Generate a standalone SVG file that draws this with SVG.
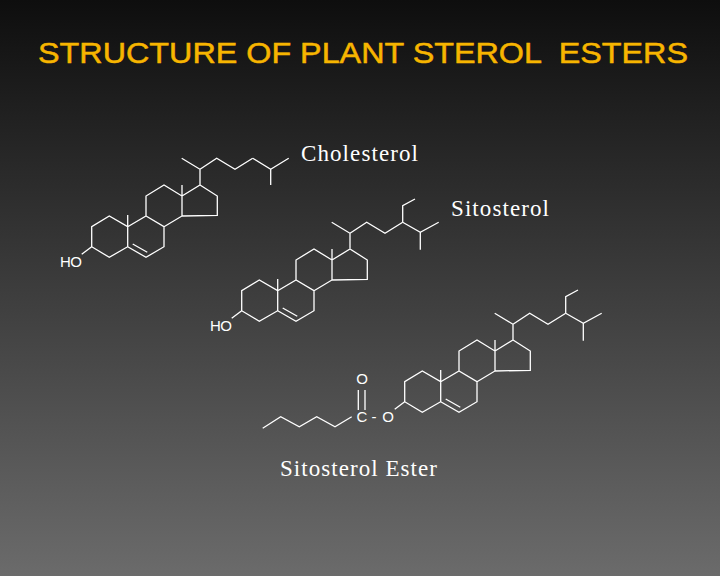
<svg xmlns="http://www.w3.org/2000/svg" xmlns:xlink="http://www.w3.org/1999/xlink" width="720" height="576" viewBox="0 0 720 576">
<defs>
<linearGradient id="bg" x1="0" y1="0" x2="0" y2="1"><stop offset="0" stop-color="#0e0e0e"/><stop offset="1" stop-color="#6b6b6b"/></linearGradient>
<g id="core" fill="none" stroke="#fff" stroke-width="1.3">
<path d="M91.7,246.7 L91.7,226.7 L109.3,216 L127.7,226.7 L127.7,246.7 L109.3,257.3 Z M127.7,226.7 L146,216 L164,226.7 L164,246.7 L146,257.3 L127.7,246.7 M132.7,244 L147.3,252.3 M146,216 L146,196 L164,185 L182,196 L182,216 L164,226.7 M182,196 L200,185 L217.3,196 L217.3,215.3 L182,216 M182,196 L182,185 M127.7,226.7 L127.7,215 M200,185 L200,169.3 L181.7,158.3 M200,169.3 L216.7,158.3 L235,169.3 L252.7,158.3 M91.7,246.7 L81.7,254.3"/>
</g>
<g id="sito-tail" fill="none" stroke="#fff" stroke-width="1.3">
<path d="M252.7,158.3 L252.7,141.7 L265,135 M252.7,158.3 L270.3,168.3 L288.7,158.3 M270.3,168.3 L270.3,185.7"/>
</g>
</defs>
<style>
.lbl{font-family:"Liberation Serif",serif;font-size:23px;fill:#fff}
.atom{font-family:"Liberation Sans",Arial,sans-serif;font-size:15px;fill:#fff}
</style>
<rect width="720" height="576" fill="url(#bg)"/>
<text x="38" y="63" textLength="650" lengthAdjust="spacingAndGlyphs" font-family="Liberation Sans,Arial,sans-serif" font-size="29" fill="#f7b500" stroke="#f7b500" stroke-width="0.5" xml:space="preserve">STRUCTURE OF PLANT STEROL  ESTERS</text>
<g id="cholesterol">
<use xlink:href="#core"/>
<path d="M252.7,158.3 L270.7,169.3 L288.7,158.3 M270.7,169.3 L270.7,185" fill="none" stroke="#fff" stroke-width="1.3"/>
<text class="atom" x="60" y="267" textLength="22">HO</text>
<text class="lbl" x="301" y="161" textLength="117">Cholesterol</text>
</g>
<g id="sitosterol" transform="translate(150,64)">
<use xlink:href="#core"/>
<use xlink:href="#sito-tail"/>
<text class="atom" x="60" y="267" textLength="22">HO</text>
</g>
<text class="lbl" x="451" y="216" textLength="98">Sitosterol</text>
<g id="sitosterol-ester">
<g transform="translate(313,155)">
<use xlink:href="#core"/>
<use xlink:href="#sito-tail"/>
</g>
<path d="M262.7,428.3 L280.7,416.7 L299.3,426.7 L316.7,416.7 L335,426.7 L351.7,416.7 M358.3,390 L358.3,410 M365,390 L365,410" fill="none" stroke="#fff" stroke-width="1.3"/>
<text class="atom" x="362" y="384" text-anchor="middle">O</text>
<text class="atom" x="362" y="422" text-anchor="middle">C</text>
<text class="atom" x="374" y="422" text-anchor="middle">-</text>
<text class="atom" x="388" y="422" text-anchor="middle">O</text>
<text class="lbl" x="280" y="476" textLength="157">Sitosterol Ester</text>
</g>
</svg>
